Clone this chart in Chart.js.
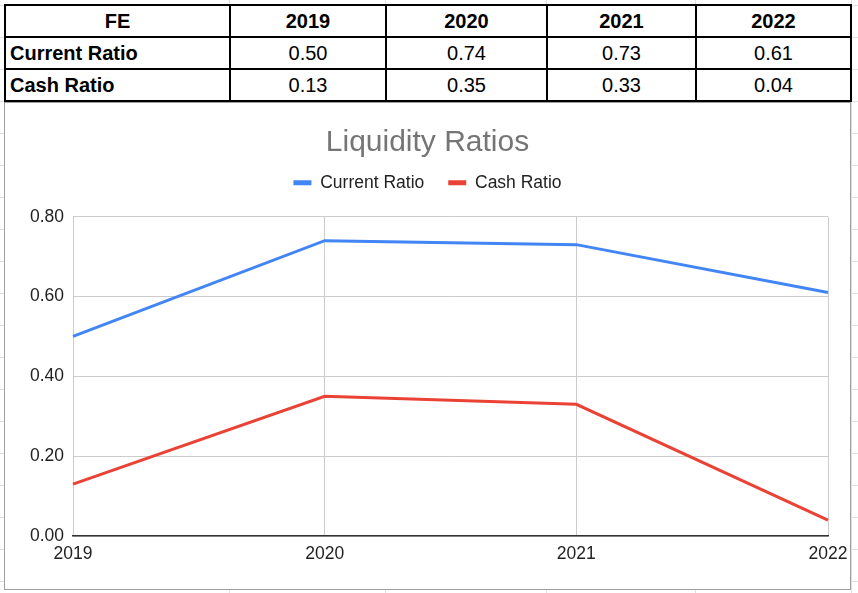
<!DOCTYPE html>
<html>
<head>
<meta charset="utf-8">
<script src="https://cdn.jsdelivr.net/npm/chart.js@4/dist/chart.umd.min.js"></script>
<style>
  html, body { margin: 0; padding: 0; }
  body {
    width: 858px; height: 593px; overflow: hidden; position: relative;
    background-color: #fff;
    background-image: repeating-linear-gradient(to bottom, #e0e0e0 0, #e0e0e0 1px, transparent 1px, transparent 32px);
    background-position: 0 5px;
    font-family: Arial, "Liberation Sans", sans-serif;
  }
  .vline { position: absolute; top: 0; bottom: 0; width: 1px; background: #e0e0e0; }
  table {
    position: absolute; left: 4px; top: 4px;
    border-collapse: collapse; background: #fff;
    table-layout: fixed;
  }
  td, th {
    border: 2px solid #000; height: 30px; padding: 0 4px;
    font-size: 20px; color: #000; line-height: 30px;
  }
  th { font-weight: bold; text-align: center; }
  td { text-align: center; }
  td.lab { text-align: left; font-weight: bold; }
  #box {
    position: absolute; left: 4px; top: 102px; width: 845px; height: 486px;
    border: 1px solid #9e9e9e; background: #fff;
  }
</style>
</head>
<body>
<div class="vline" style="left:229px"></div>
<div class="vline" style="left:385px"></div>
<div class="vline" style="left:546px"></div>
<div class="vline" style="left:695px"></div>
<div class="vline" style="left:851px"></div>

<table id="tbl">
  <colgroup>
    <col style="width:225px"><col style="width:156px"><col style="width:161px"><col style="width:149px"><col style="width:155px">
  </colgroup>
  <thead><tr id="head"></tr></thead>
  <tbody id="body"></tbody>
</table>

<div id="box"><canvas id="chart"></canvas></div>

<script>
const years = ['2019', '2020', '2021', '2022'];
const currentRatio = [0.50, 0.74, 0.73, 0.61];
const cashRatio = [0.13, 0.35, 0.33, 0.04];
const yTicks = [0, 0.2, 0.4, 0.6, 0.8];

// table above the chart
const head = document.getElementById('head');
head.innerHTML = '<th>FE</th>' + years.map(y => `<th>${y}</th>`).join('');
const body = document.getElementById('body');
[['Current Ratio', currentRatio], ['Cash Ratio', cashRatio]].forEach(([name, vals]) => {
  body.innerHTML += `<tr><td class="lab">${name}</td>` +
    vals.map(v => `<td>${v.toFixed(2)}</td>`).join('') + '</tr>';
});

const font = { family: 'Arial, "Liberation Sans", sans-serif', size: 17.5 };

new Chart(document.getElementById('chart'), {
  type: 'line',
  data: {
    labels: years,
    datasets: [
      {
        label: 'Current Ratio',
        data: currentRatio,
        borderColor: '#4285f4',
        backgroundColor: '#4285f4',
        borderWidth: 3,
        pointRadius: 0,
        tension: 0,
      },
      {
        label: 'Cash Ratio',
        data: cashRatio,
        borderColor: '#ea4335',
        backgroundColor: '#ea4335',
        borderWidth: 3,
        pointRadius: 0,
        tension: 0,
      },
    ],
  },
  options: {
    responsive: true,
    maintainAspectRatio: false,
    animation: false,
    layout: { padding: { left: 0, right: 0, top: 0, bottom: 16 } },
    plugins: {
      title: {
        display: true,
        text: 'Liquidity Ratios',
        color: '#757575',
        font: { ...font, size: 30, weight: 'normal' },
        padding: { top: 22, bottom: -11 },
      },
      // empty subtitle used as a spacer between legend and plot
      subtitle: {
        display: true,
        text: ' ',
        weight: 500,
        font: { size: 1 },
        padding: { top: 14, bottom: 0 },
      },
      legend: {
        labels: {
          color: '#222',
          font,
          boxWidth: 18,
          boxHeight: 5,
          padding: 24,
          generateLabels: (chart) =>
            Chart.defaults.plugins.legend.labels.generateLabels(chart).map(l => ({ ...l, lineWidth: 0 })),
        },
      },
      tooltip: { enabled: false },
    },
    scales: {
      x: {
        offset: false,
        grid: { color: '#cccccc', drawTicks: false },
        border: { color: '#333333', width: 1.5 },
        ticks: { color: '#222', font, padding: 8, maxRotation: 0 },
        // fixed gap on the right; the end label hangs past the plot
        afterFit: (scale) => { scale.paddingLeft = 0; scale.paddingRight = 22; },
      },
      y: {
        min: 0,
        max: 0.8,
        afterBuildTicks: (scale) => { scale.ticks = yTicks.map(v => ({ value: v })); },
        grid: { color: '#cccccc', drawTicks: false },
        border: { display: false },
        ticks: { color: '#222', font, padding: 9, callback: (v) => v.toFixed(2) },
        afterFit: (scale) => { scale.width = 68; },
      },
    },
  },
});
</script>
</body>
</html>
